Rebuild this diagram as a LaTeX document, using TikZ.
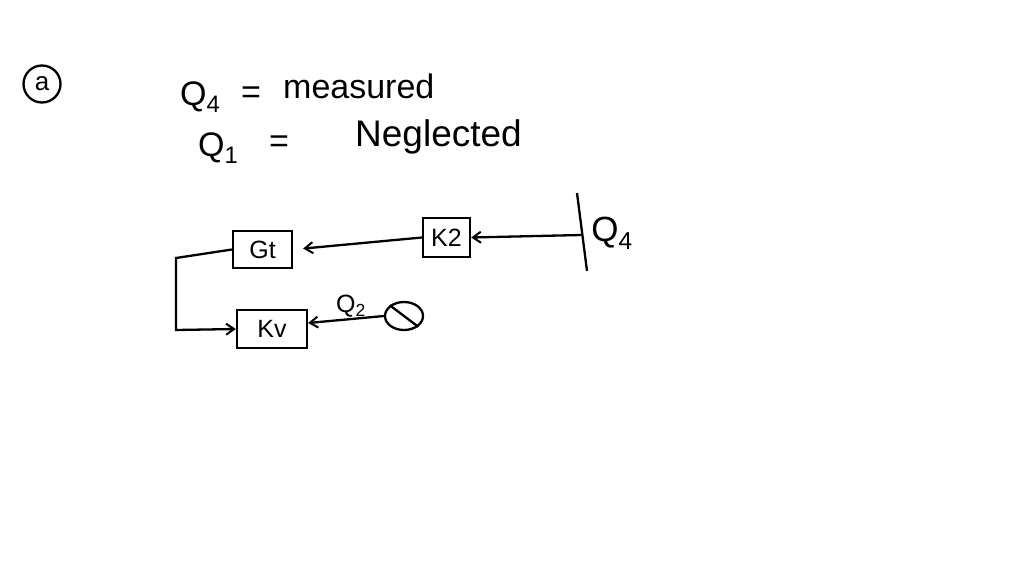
\documentclass[tikz,border=0pt]{standalone}
\usepackage{fontspec}
\setmainfont{Liberation Sans}
\usetikzlibrary{arrows.meta,shapes.geometric}
\begin{document}
\begin{tikzpicture}[x=1pt,y=-1pt,
  ink/.style={line width=2.3pt,black},
  blk/.style={draw,ink,rectangle,inner sep=0pt,font=\fontsize{25}{27}\selectfont},
  arr/.style={ink,-{Straight Barb[length=8pt,width=11pt,line width=2pt]}},
  txt/.style={inner sep=0pt,anchor=base west,font=\fontsize{34}{36}\selectfont},
  eqs/.style={inner sep=0pt,font=\fontsize{34}{36}\selectfont}]
\useasboundingbox[fill=white] (0,0) rectangle (1024,576);
% heading
\node[draw,ink,circle,minimum size=37pt,inner sep=0pt,font=\fontsize{26}{28}\selectfont] (lab) at (42,84) {a};
\node[txt] (q4a) at (180,105) {Q\textsubscript{4}};
\node[eqs] (eqa) at (251,95) {=};
\node[txt] (wa) at (283,98) {measured};
\node[txt] (q1a) at (198,156) {Q\textsubscript{1}};
\node[eqs] (eqb) at (279,144) {=};
\node[txt,font=\fontsize{37}{39}\selectfont] (wb) at (355,146) {Neglected};
% blocks
\node[blk,minimum width=59pt,minimum height=37pt] (gt) at (262.5,249.5) {Gt};
\node[blk,minimum width=47pt,minimum height=39pt] (k2) at (446.5,237.5) {K2};
\node[blk,minimum width=70pt,minimum height=38pt] (kv) at (272,329) {Kv};
% vertical line for Q4
\coordinate (qt) at (577,193);
\coordinate (qb) at (587,271);
\coordinate (qm) at (581,235);
\draw[ink] (qt) -- (qb);
\node[inner sep=0pt,font=\fontsize{35}{37}\selectfont] (q4) at (612,233) {Q\textsubscript{4}};
% pump / valve circle
\node[draw,ink,ellipse,minimum width=38pt,minimum height=28pt,inner sep=0pt] (pump) at (404,316) {};
\draw[ink] (pump.north west) -- (pump.south east);
\node[inner sep=0pt,font=\fontsize{25}{27}\selectfont] (q2) at (351,306) {Q\textsubscript{2}};
% connectors
\coordinate (c1) at (176,258);
\coordinate (c2) at (176,330);
\draw[arr] (qm) -- (k2.east);
\draw[arr,shorten >=10pt] (k2.west) -- (gt.east);
\draw[arr] (gt.west) -- (c1) -- (c2) -- (kv.west);
\draw[arr] (pump.west) -- ([yshift=6pt]kv.east);
\end{tikzpicture}
\end{document}
